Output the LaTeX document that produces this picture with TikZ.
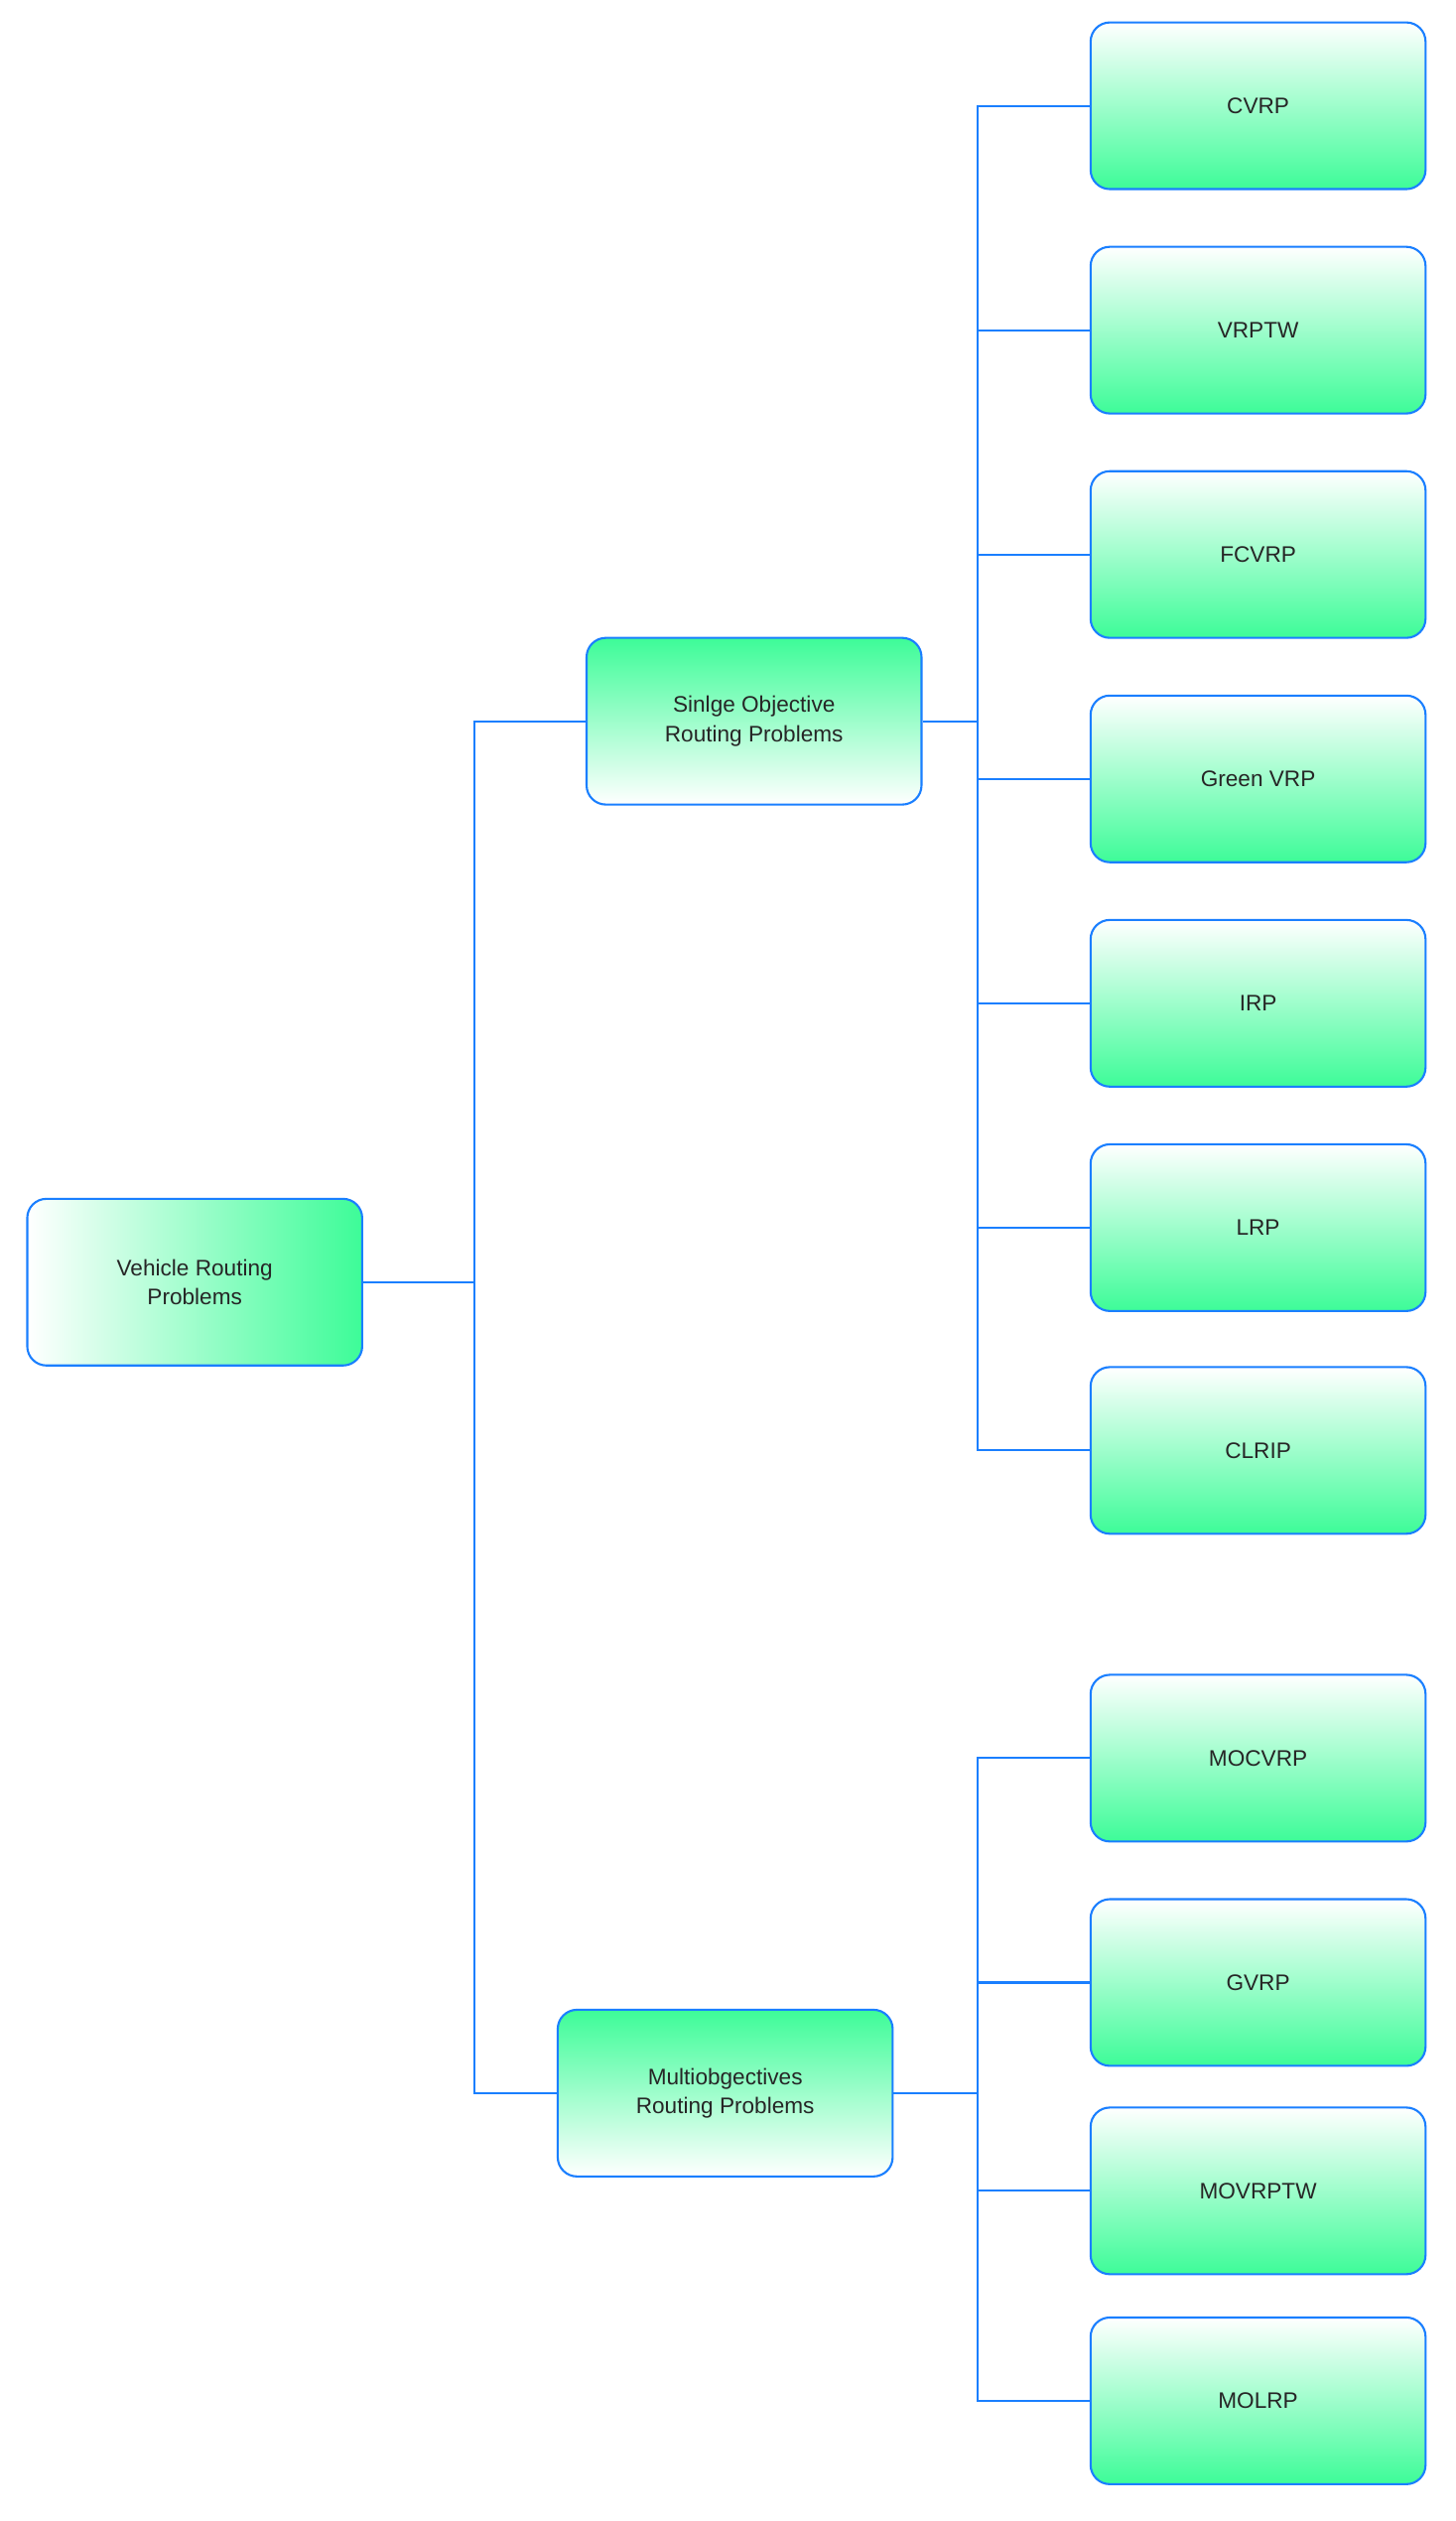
\documentclass[tikz,border=0pt]{standalone}
\usepackage{fontspec}
\setmainfont{Liberation Sans}
\begin{document}
\begin{tikzpicture}[x=1pt,y=-1pt,
  box/.style={draw=lineblue,line width=1.3pt,rounded corners=12pt,minimum width=209pt,minimum height=104pt,align=center,font=\fontsize{14}{18}\selectfont,text=black!85},
  leaf/.style={box,top color=white,bottom color=vgreen,shading angle=0},
  conn/.style={draw=lineblue,line width=1.3pt}]
\definecolor{lineblue}{HTML}{1A7FFF}
\definecolor{vgreen}{HTML}{3DFC98}
\useasboundingbox (0,0) rectangle (908,1573);
\node[box,left color=white,right color=vgreen] (root) at (121.5,800) {Vehicle Routing\\Problems};
\node[box,top color=vgreen,bottom color=white] (s) at (470.5,450) {Sinlge Objective\\Routing Problems};
\node[box,top color=vgreen,bottom color=white] (m) at (452.5,1306) {Multiobgectives\\Routing Problems};
\foreach \n/\t/\y in {a/CVRP/66,b/VRPTW/206,c/FCVRP/346,d/Green VRP/486,e/IRP/626,f/LRP/766,g/CLRIP/905,h/MOCVRP/1097,i/GVRP/1237,j/MOVRPTW/1367,k/MOLRP/1498}
  \node[leaf] (\n) at (785,\y) {\t};
\coordinate (t1) at (296,450); \coordinate (t2) at (296,1306); \coordinate (t0) at (296,800);
\draw[conn] (root.east) -- (t0);
\draw[conn] (s.west) -- (t1) -- (t2) -- (m.west);
\coordinate (sb) at (610,450); \coordinate (mb) at (610,1306);
\draw[conn] (s.east) -- (sb);
\draw[conn] (m.east) -- (mb);
\draw[conn] (a.west) -| (sb) |- (g.west);
\foreach \n in {b,c,d,e,f} \draw[conn] (\n.west) -- (\n.west -| sb);
\draw[conn] (h.west) -| (mb) |- (k.west);
\foreach \n in {i,j} \draw[conn] (\n.west) -- (\n.west -| mb);
\end{tikzpicture}
\end{document}
